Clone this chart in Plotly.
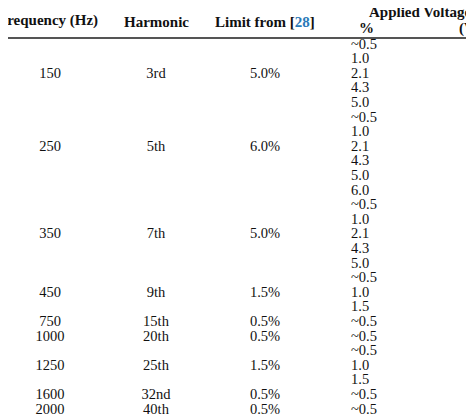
import plotly.graph_objects as go

freq = ["150", "250", "350", "450", "750", "1000", "1250", "1600", "2000"]
harmonic = ["3rd", "5th", "7th", "9th", "15th", "20th", "25th", "32nd", "40th"]
limit = ["5.0%", "6.0%", "5.0%", "1.5%", "0.5%", "0.5%", "1.5%", "0.5%", "0.5%"]
pct = [["~0.5", "1.0", "2.1", "4.3", "5.0"],
       ["~0.5", "1.0", "2.1", "4.3", "5.0", "6.0"],
       ["~0.5", "1.0", "2.1", "4.3", "5.0"],
       ["~0.5", "1.0", "1.5"],
       ["~0.5"], ["~0.5"],
       ["~0.5", "1.0", "1.5"],
       ["~0.5"], ["~0.5"]]
volts = [["61.5", "120", "250", "500", "580"],
         ["61.5", "120", "250", "500", "580", "695"],
         ["61.5", "120", "250", "500", "580"],
         ["61.5", "120", "175"],
         ["61.5"], ["61.5"],
         ["61.5", "120", "175"],
         ["61.5"], ["61.5"]]

FONT = "Liberation Serif"
fig = go.Figure()

rows_p, rows_v, rows_idx = [], [], []
gf, gh, gl, gidx = [], [], [], []
r = 0
for g in range(len(freq)):
    n = len(pct[g])
    gidx.append(r + (n - 1) // 2)
    gf.append(freq[g]); gh.append(harmonic[g]); gl.append(limit[g])
    for k in range(n):
        rows_p.append(pct[g][k]); rows_v.append(volts[g][k]); rows_idx.append(r)
        r += 1

font = dict(family=FONT, size=14.5, color="#111")
def col(x, ys, texts, pos):
    fig.add_trace(go.Scatter(x=[x] * len(ys), y=ys, text=texts, mode="text",
                             textposition=pos, textfont=font, hoverinfo="skip",
                             cliponaxis=False, showlegend=False))

col(42, gidx, gf, "middle center")
col(148, gidx, gh, "middle center")
col(257, gidx, gl, "middle center")
col(343, rows_idx, rows_p, "middle right")
col(477, rows_idx, rows_v, "middle left")

step = 14.6
y0 = 37
fig.update_layout(
    width=474, height=415, margin=dict(l=0, r=0, t=0, b=0),
    paper_bgcolor="white", plot_bgcolor="white",
    xaxis=dict(range=[0, 474], visible=False, fixedrange=True),
    yaxis=dict(range=[(415 - y0) / step, -y0 / step], visible=False, fixedrange=True),
)
hb = dict(family=FONT, size=15, color="#111")
def hdr(x, y, text, anchor="center"):
    fig.add_annotation(x=x, y=y, xref="paper", yref="paper", text=text, showarrow=False,
                       xanchor=anchor, yanchor="middle", font=hb)
hdr(40 / 474, 1 - 13 / 415, "<b>Frequency (Hz)</b>")
hdr(148 / 474, 1 - 14 / 415, "<b>Harmonic</b>")
hdr(257 / 474, 1 - 14 / 415, "<b>Limit from [<span style='color:#2a7ab8'>28</span>]</b>")
hdr(412 / 474, 1 - 4 / 415, "<b>Applied Voltage</b>")
hdr(358 / 474, 1 - 20 / 415, "<b>%</b>")
hdr(1.0, 1 - 20 / 415, "<b>(V)</b>", "right")
fig.add_shape(type="line", xref="paper", yref="paper", x0=0, x1=1,
              y0=1 - 30 / 415, y1=1 - 30 / 415, line=dict(color="#555", width=2))
fig.write_html("out.html")
